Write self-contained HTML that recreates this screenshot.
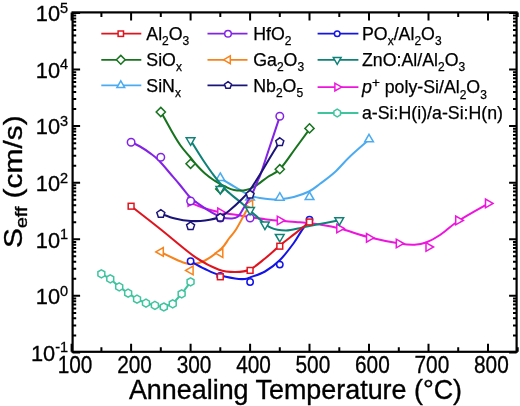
<!DOCTYPE html>
<html><head><meta charset="utf-8"><title>Seff vs Annealing Temperature</title>
<style>html,body{margin:0;padding:0;background:#fff}body{width:520px;height:406px;overflow:hidden}</style></head>
<body>
<svg width="520" height="406" viewBox="0 0 520 406" style="display:block">
<rect width="520" height="406" fill="#fff"/>
<path d="M190.8 203.0 C192.8 203.8 198.1 206.1 203.0 207.7 C207.9 209.2 214.9 211.2 220.0 212.3 C225.1 213.5 228.8 213.8 233.8 214.6 C238.8 215.4 244.8 216.2 250.0 217.0 C255.2 217.8 260.0 218.6 265.0 219.2 C270.0 219.8 274.2 220.3 280.0 220.8 C285.8 221.3 293.3 221.7 300.0 222.3 C306.7 222.9 313.3 223.6 320.0 224.6 C326.7 225.6 331.7 226.3 340.0 228.5 C348.3 230.7 360.1 235.0 370.0 237.5 C379.9 240.0 392.2 242.3 399.6 243.5 C407.0 244.7 410.2 244.9 414.6 244.7 C419.0 244.5 421.8 244.1 426.0 242.5 C430.2 240.9 434.5 238.7 440.0 235.0 C445.5 231.3 450.9 225.8 459.0 220.5 C467.1 215.2 483.6 206.2 488.5 203.4" fill="none" stroke="#ee14de" stroke-width="2.05" stroke-linecap="round" stroke-linejoin="round"/>
<path d="M195.6 202.0 L188.1 197.7 L188.1 206.3Z" fill="#fff" stroke="#ee14de" stroke-width="1.5" stroke-linejoin="miter"/>
<path d="M225.3 212.3 L217.8 208.0 L217.8 216.7Z" fill="#fff" stroke="#ee14de" stroke-width="1.5" stroke-linejoin="miter"/>
<path d="M284.8 220.5 L277.3 216.2 L277.3 224.8Z" fill="#fff" stroke="#ee14de" stroke-width="1.5" stroke-linejoin="miter"/>
<path d="M344.3 228.5 L336.8 224.2 L336.8 232.8Z" fill="#fff" stroke="#ee14de" stroke-width="1.5" stroke-linejoin="miter"/>
<path d="M374.0 237.8 L366.5 233.5 L366.5 242.2Z" fill="#fff" stroke="#ee14de" stroke-width="1.5" stroke-linejoin="miter"/>
<path d="M403.8 243.5 L396.3 239.2 L396.3 247.8Z" fill="#fff" stroke="#ee14de" stroke-width="1.5" stroke-linejoin="miter"/>
<path d="M433.5 247.0 L426.0 242.7 L426.0 251.3Z" fill="#fff" stroke="#ee14de" stroke-width="1.5" stroke-linejoin="miter"/>
<path d="M463.3 220.4 L455.7 216.1 L455.7 224.8Z" fill="#fff" stroke="#ee14de" stroke-width="1.5" stroke-linejoin="miter"/>
<path d="M493.0 203.4 L485.5 199.1 L485.5 207.8Z" fill="#fff" stroke="#ee14de" stroke-width="1.5" stroke-linejoin="miter"/>
<path d="M220.8 178.5 C222.3 179.4 226.8 182.1 230.0 184.0 C233.2 185.9 236.7 188.1 240.0 190.0 C243.3 191.9 246.7 194.2 250.0 195.5 C253.3 196.8 256.7 197.4 260.0 198.0 C263.3 198.6 266.7 199.1 270.0 199.3 C273.3 199.5 276.0 199.7 280.0 199.3 C284.0 198.9 289.0 198.3 293.8 197.0 C298.6 195.7 304.6 193.7 309.0 191.5 C313.4 189.3 315.7 187.1 320.0 183.8 C324.3 180.6 330.0 176.6 335.0 172.0 C340.0 167.4 344.2 161.9 350.0 156.5 C355.8 151.1 366.2 142.2 369.5 139.3" fill="none" stroke="#4cabf0" stroke-width="2.05" stroke-linecap="round" stroke-linejoin="round"/>
<path d="M220.3 173.0 L224.7 180.5 L216.0 180.5Z" fill="#fff" stroke="#4cabf0" stroke-width="1.5" stroke-linejoin="miter"/>
<path d="M250.1 192.5 L254.4 200.0 L245.7 200.0Z" fill="#fff" stroke="#4cabf0" stroke-width="1.5" stroke-linejoin="miter"/>
<path d="M279.8 192.7 L284.1 200.2 L275.4 200.2Z" fill="#fff" stroke="#4cabf0" stroke-width="1.5" stroke-linejoin="miter"/>
<path d="M309.5 192.0 L313.9 199.5 L305.2 199.5Z" fill="#fff" stroke="#4cabf0" stroke-width="1.5" stroke-linejoin="miter"/>
<path d="M369.0 134.3 L373.4 141.8 L364.7 141.8Z" fill="#fff" stroke="#4cabf0" stroke-width="1.5" stroke-linejoin="miter"/>
<path d="M161.0 112.0 C162.7 115.0 167.8 124.4 171.0 130.0 C174.2 135.6 177.3 141.0 180.5 145.5 C183.7 150.0 187.2 153.7 190.0 157.0 C192.8 160.3 194.5 162.8 197.0 165.5 C199.5 168.2 202.0 170.9 205.0 173.5 C208.0 176.1 211.7 178.8 215.0 181.0 C218.3 183.2 221.8 185.0 225.0 186.5 C228.2 188.0 230.5 189.4 234.0 190.0 C237.5 190.6 242.4 190.7 246.0 190.0 C249.6 189.3 251.8 188.2 255.4 186.0 C259.0 183.8 263.6 179.8 267.7 177.0 C271.8 174.2 275.4 173.7 280.0 169.0 C284.6 164.3 290.0 155.8 295.0 149.0 C300.0 142.2 307.6 131.8 310.1 128.4" fill="none" stroke="#17731e" stroke-width="2.05" stroke-linecap="round" stroke-linejoin="round"/>
<path d="M160.8 107.4 L165.4 112.0 L160.8 116.6 L156.2 112.0Z" fill="#fff" stroke="#17731e" stroke-width="1.5" stroke-linejoin="miter"/>
<path d="M190.6 159.2 L195.2 163.8 L190.6 168.4 L186.0 163.8Z" fill="#fff" stroke="#17731e" stroke-width="1.5" stroke-linejoin="miter"/>
<path d="M220.3 184.4 L224.9 189.0 L220.3 193.6 L215.7 189.0Z" fill="#fff" stroke="#17731e" stroke-width="1.5" stroke-linejoin="miter"/>
<path d="M279.8 164.6 L284.4 169.2 L279.8 173.8 L275.2 169.2Z" fill="#fff" stroke="#17731e" stroke-width="1.5" stroke-linejoin="miter"/>
<path d="M309.5 123.8 L314.1 128.4 L309.5 133.0 L304.9 128.4Z" fill="#fff" stroke="#17731e" stroke-width="1.5" stroke-linejoin="miter"/>
<path d="M160.4 251.9 C162.8 253.1 170.9 257.1 175.0 259.0 C179.1 260.9 182.0 262.2 185.0 263.0 C188.0 263.8 189.7 264.4 193.0 264.0 C196.3 263.6 200.2 263.1 205.0 260.5 C209.8 257.9 217.5 252.2 221.5 248.5 C225.5 244.8 226.6 241.7 229.0 238.5 C231.4 235.3 233.4 233.6 236.0 229.5 C238.6 225.4 242.0 218.7 244.6 214.0 C247.2 209.3 250.3 203.6 251.5 201.5" fill="none" stroke="#f7831c" stroke-width="2.05" stroke-linecap="round" stroke-linejoin="round"/>
<path d="M155.8 251.9 L163.3 247.6 L163.3 256.2Z" fill="#fff" stroke="#f7831c" stroke-width="1.5" stroke-linejoin="miter"/>
<path d="M185.6 270.4 L193.1 266.0 L193.1 274.8Z" fill="#fff" stroke="#f7831c" stroke-width="1.5" stroke-linejoin="miter"/>
<path d="M215.3 253.1 L222.8 248.8 L222.8 257.4Z" fill="#fff" stroke="#f7831c" stroke-width="1.5" stroke-linejoin="miter"/>
<path d="M245.0 204.6 L252.6 200.2 L252.6 208.9Z" fill="#fff" stroke="#f7831c" stroke-width="1.5" stroke-linejoin="miter"/>
<path d="M131.6 142.3 C133.0 143.0 136.9 144.7 140.0 146.5 C143.1 148.3 146.8 150.7 150.0 153.1 C153.2 155.5 155.3 156.8 159.2 160.8 C163.0 164.8 169.6 172.9 173.1 176.9 C176.6 180.9 177.6 182.1 180.0 185.0 C182.4 187.9 185.4 191.9 187.3 194.2 C189.2 196.4 189.4 196.8 191.5 198.5 C193.6 200.2 196.2 202.3 199.6 204.7 C203.0 207.1 208.3 210.6 212.0 212.7 C215.7 214.8 218.5 216.3 221.8 217.3 C225.1 218.3 229.3 218.6 232.0 218.5 C234.7 218.4 236.1 218.2 238.0 216.5 C239.9 214.8 241.8 211.1 243.5 208.3 C245.2 205.6 246.8 202.9 248.4 200.0 C250.1 197.1 251.8 194.3 253.4 191.0 C255.0 187.7 256.8 182.8 258.0 180.0 C259.2 177.2 258.7 179.7 260.7 174.0 C262.7 168.3 266.8 155.6 270.0 146.0 C273.2 136.4 278.1 121.6 279.7 116.7" fill="none" stroke="#8223e6" stroke-width="2.05" stroke-linecap="round" stroke-linejoin="round"/>
<circle cx="131.1" cy="142.3" r="3.75" fill="#fff" stroke="#8223e6" stroke-width="1.5" stroke-linejoin="miter"/>
<circle cx="160.8" cy="157.3" r="3.75" fill="#fff" stroke="#8223e6" stroke-width="1.5" stroke-linejoin="miter"/>
<circle cx="190.6" cy="201.0" r="3.75" fill="#fff" stroke="#8223e6" stroke-width="1.5" stroke-linejoin="miter"/>
<circle cx="220.3" cy="218.0" r="3.75" fill="#fff" stroke="#8223e6" stroke-width="1.5" stroke-linejoin="miter"/>
<circle cx="250.1" cy="218.0" r="3.75" fill="#fff" stroke="#8223e6" stroke-width="1.5" stroke-linejoin="miter"/>
<circle cx="279.8" cy="116.2" r="3.75" fill="#fff" stroke="#8223e6" stroke-width="1.5" stroke-linejoin="miter"/>
<path d="M191.0 261.5 C193.3 262.8 200.3 266.8 205.0 269.0 C209.7 271.2 214.0 273.4 219.0 275.0 C224.0 276.6 230.7 277.8 235.0 278.5 C239.3 279.2 242.5 279.2 245.0 279.0 C247.5 278.8 246.7 278.6 250.0 277.4 C253.3 276.1 260.0 274.4 265.0 271.5 C270.0 268.6 275.2 264.8 280.0 260.0 C284.8 255.2 290.2 247.9 293.8 243.0 C297.4 238.1 298.9 234.6 301.5 230.8 C304.1 227.0 308.3 221.8 309.7 220.0" fill="none" stroke="#1414e6" stroke-width="2.05" stroke-linecap="round" stroke-linejoin="round"/>
<circle cx="190.6" cy="261.2" r="3.19" fill="#fff" stroke="#1414e6" stroke-width="1.5" stroke-linejoin="miter"/>
<circle cx="220.3" cy="276.0" r="3.19" fill="#fff" stroke="#1414e6" stroke-width="1.5" stroke-linejoin="miter"/>
<circle cx="250.1" cy="282.0" r="3.19" fill="#fff" stroke="#1414e6" stroke-width="1.5" stroke-linejoin="miter"/>
<circle cx="279.8" cy="264.6" r="3.19" fill="#fff" stroke="#1414e6" stroke-width="1.5" stroke-linejoin="miter"/>
<circle cx="309.5" cy="219.8" r="3.19" fill="#fff" stroke="#1414e6" stroke-width="1.5" stroke-linejoin="miter"/>
<path d="M190.6 140.3 C192.7 143.6 199.1 154.2 203.0 160.0 C206.9 165.8 210.0 170.4 213.8 175.4 C217.6 180.4 221.4 185.4 226.0 190.0 C230.6 194.6 236.6 198.8 241.5 203.0 C246.4 207.2 250.5 211.3 255.4 215.4 C260.3 219.5 265.7 225.2 270.8 227.7 C275.9 230.2 280.9 230.5 286.0 230.5 C291.1 230.5 296.3 228.7 301.5 227.7 C306.7 226.7 310.7 225.8 317.0 224.6 C323.3 223.4 335.5 221.0 339.2 220.3" fill="none" stroke="#0f8278" stroke-width="2.05" stroke-linecap="round" stroke-linejoin="round"/>
<path d="M190.6 145.3 L194.9 137.8 L186.2 137.8Z" fill="#fff" stroke="#0f8278" stroke-width="1.5" stroke-linejoin="miter"/>
<path d="M220.3 194.0 L224.7 186.5 L216.0 186.5Z" fill="#fff" stroke="#0f8278" stroke-width="1.5" stroke-linejoin="miter"/>
<path d="M250.1 215.0 L254.4 207.5 L245.7 207.5Z" fill="#fff" stroke="#0f8278" stroke-width="1.5" stroke-linejoin="miter"/>
<path d="M264.9 229.6 L269.3 222.1 L260.6 222.1Z" fill="#fff" stroke="#0f8278" stroke-width="1.5" stroke-linejoin="miter"/>
<path d="M279.8 242.0 L284.1 234.5 L275.4 234.5Z" fill="#fff" stroke="#0f8278" stroke-width="1.5" stroke-linejoin="miter"/>
<path d="M339.3 225.3 L343.6 217.8 L334.9 217.8Z" fill="#fff" stroke="#0f8278" stroke-width="1.5" stroke-linejoin="miter"/>
<path d="M161.2 213.8 C163.5 214.6 170.1 217.3 175.0 218.5 C179.9 219.7 185.8 220.7 190.8 221.0 C195.8 221.3 200.1 221.2 205.0 220.5 C209.9 219.8 215.8 218.8 220.0 217.0 C224.2 215.2 226.3 213.0 230.0 210.0 C233.7 207.0 238.7 202.3 242.0 199.0 C245.3 195.7 247.6 193.2 250.0 190.0 C252.4 186.8 254.3 183.4 256.5 180.0 C258.7 176.6 260.6 173.5 263.0 169.5 C265.4 165.5 268.2 160.6 271.0 156.0 C273.8 151.4 278.2 144.3 279.7 142.0" fill="none" stroke="#1b1478" stroke-width="2.05" stroke-linecap="round" stroke-linejoin="round"/>
<path d="M160.8 209.6 L164.8 212.5 L163.3 217.2 L158.4 217.2 L156.8 212.5Z" fill="#fff" stroke="#1b1478" stroke-width="1.5" stroke-linejoin="miter"/>
<path d="M190.6 222.0 L194.6 224.9 L193.0 229.6 L188.1 229.6 L186.6 224.9Z" fill="#fff" stroke="#1b1478" stroke-width="1.5" stroke-linejoin="miter"/>
<path d="M220.3 213.5 L224.3 216.4 L222.8 221.1 L217.9 221.1 L216.3 216.4Z" fill="#fff" stroke="#1b1478" stroke-width="1.5" stroke-linejoin="miter"/>
<path d="M250.1 190.4 L254.1 193.3 L252.5 198.0 L247.6 198.0 L246.1 193.3Z" fill="#fff" stroke="#1b1478" stroke-width="1.5" stroke-linejoin="miter"/>
<path d="M279.8 137.8 L283.8 140.7 L282.3 145.4 L277.3 145.4 L275.8 140.7Z" fill="#fff" stroke="#1b1478" stroke-width="1.5" stroke-linejoin="miter"/>
<path d="M131.2 206.2 C136.2 210.2 150.7 221.4 161.5 230.0 C172.3 238.6 186.4 251.1 196.0 257.7 C205.6 264.3 212.4 267.3 219.0 269.7 C225.6 272.1 230.2 272.0 235.4 272.0 C240.6 272.0 245.1 271.8 250.0 269.5 C254.9 267.2 260.0 262.5 265.0 258.5 C270.0 254.5 275.0 249.6 280.0 245.4 C285.0 241.2 290.1 237.5 295.0 233.6 C299.9 229.7 307.2 223.9 309.7 222.0" fill="none" stroke="#e0141e" stroke-width="2.05" stroke-linecap="round" stroke-linejoin="round"/>
<rect x="128.2" y="203.3" width="5.8" height="5.8" fill="#fff" stroke="#e0141e" stroke-width="1.5" stroke-linejoin="miter"/>
<rect x="217.4" y="273.9" width="5.8" height="5.8" fill="#fff" stroke="#e0141e" stroke-width="1.5" stroke-linejoin="miter"/>
<rect x="247.2" y="267.5" width="5.8" height="5.8" fill="#fff" stroke="#e0141e" stroke-width="1.5" stroke-linejoin="miter"/>
<rect x="276.9" y="243.3" width="5.8" height="5.8" fill="#fff" stroke="#e0141e" stroke-width="1.5" stroke-linejoin="miter"/>
<rect x="306.6" y="219.1" width="5.8" height="5.8" fill="#fff" stroke="#e0141e" stroke-width="1.5" stroke-linejoin="miter"/>
<path d="M101.4 273.8 L110.3 278.8 L119.2 286.9 L128.1 293.2 L137.0 299.2 L146.0 303.1 L154.9 305.4 L163.8 307.0 L172.7 303.8 L181.7 293.8 L190.6 281.8" fill="none" stroke="#40c49e" stroke-width="2.05" stroke-linecap="round" stroke-linejoin="round"/>
<path d="M101.4 269.8 L104.8 271.8 L104.8 275.8 L101.4 277.8 L97.9 275.8 L97.9 271.8Z" fill="#fff" stroke="#40c49e" stroke-width="1.5" stroke-linejoin="miter"/>
<path d="M110.3 274.8 L113.7 276.8 L113.7 280.8 L110.3 282.8 L106.8 280.8 L106.8 276.8Z" fill="#fff" stroke="#40c49e" stroke-width="1.5" stroke-linejoin="miter"/>
<path d="M119.2 282.9 L122.7 284.9 L122.7 288.9 L119.2 290.9 L115.7 288.9 L115.7 284.9Z" fill="#fff" stroke="#40c49e" stroke-width="1.5" stroke-linejoin="miter"/>
<path d="M128.1 289.2 L131.6 291.2 L131.6 295.2 L128.1 297.2 L124.7 295.2 L124.7 291.2Z" fill="#fff" stroke="#40c49e" stroke-width="1.5" stroke-linejoin="miter"/>
<path d="M137.0 295.2 L140.5 297.2 L140.5 301.2 L137.0 303.2 L133.6 301.2 L133.6 297.2Z" fill="#fff" stroke="#40c49e" stroke-width="1.5" stroke-linejoin="miter"/>
<path d="M146.0 299.1 L149.4 301.1 L149.4 305.1 L146.0 307.1 L142.5 305.1 L142.5 301.1Z" fill="#fff" stroke="#40c49e" stroke-width="1.5" stroke-linejoin="miter"/>
<path d="M154.9 301.4 L158.4 303.4 L158.4 307.4 L154.9 309.4 L151.4 307.4 L151.4 303.4Z" fill="#fff" stroke="#40c49e" stroke-width="1.5" stroke-linejoin="miter"/>
<path d="M163.8 303.0 L167.3 305.0 L167.3 309.0 L163.8 311.0 L160.3 309.0 L160.3 305.0Z" fill="#fff" stroke="#40c49e" stroke-width="1.5" stroke-linejoin="miter"/>
<path d="M172.7 299.8 L176.2 301.8 L176.2 305.8 L172.7 307.8 L169.3 305.8 L169.3 301.8Z" fill="#fff" stroke="#40c49e" stroke-width="1.5" stroke-linejoin="miter"/>
<path d="M181.7 289.8 L185.1 291.8 L185.1 295.8 L181.7 297.8 L178.2 295.8 L178.2 291.8Z" fill="#fff" stroke="#40c49e" stroke-width="1.5" stroke-linejoin="miter"/>
<path d="M190.6 277.8 L194.0 279.8 L194.0 283.8 L190.6 285.8 L187.1 283.8 L187.1 279.8Z" fill="#fff" stroke="#40c49e" stroke-width="1.5" stroke-linejoin="miter"/>
<rect x="72.6" y="12.4" width="444.0" height="339.4" fill="none" stroke="#000" stroke-width="2.2"/>
<path d="M71.6 351.8v-8.0M71.6 12.4v8.0M101.4 351.8v-4.5M101.4 12.4v4.5M131.1 351.8v-8.0M131.1 12.4v8.0M160.8 351.8v-4.5M160.8 12.4v4.5M190.6 351.8v-8.0M190.6 12.4v8.0M220.3 351.8v-4.5M220.3 12.4v4.5M250.1 351.8v-8.0M250.1 12.4v8.0M279.8 351.8v-4.5M279.8 12.4v4.5M309.5 351.8v-8.0M309.5 12.4v8.0M339.3 351.8v-4.5M339.3 12.4v4.5M369.0 351.8v-8.0M369.0 12.4v8.0M398.8 351.8v-4.5M398.8 12.4v4.5M428.5 351.8v-8.0M428.5 12.4v8.0M458.2 351.8v-4.5M458.2 12.4v4.5M488.0 351.8v-8.0M488.0 12.4v8.0M517.7 351.8v-4.5M517.7 12.4v4.5M72.6 352.4h7.5M516.6 352.4h-7.5M72.6 335.4h3.6M516.6 335.4h-3.6M72.6 325.4h3.6M516.6 325.4h-3.6M72.6 318.3h3.6M516.6 318.3h-3.6M72.6 312.9h3.6M516.6 312.9h-3.6M72.6 308.4h3.6M516.6 308.4h-3.6M72.6 304.6h3.6M516.6 304.6h-3.6M72.6 301.3h3.6M516.6 301.3h-3.6M72.6 298.4h3.6M516.6 298.4h-3.6M72.6 295.8h7.5M516.6 295.8h-7.5M72.6 278.8h3.6M516.6 278.8h-3.6M72.6 268.8h3.6M516.6 268.8h-3.6M72.6 261.8h3.6M516.6 261.8h-3.6M72.6 256.3h3.6M516.6 256.3h-3.6M72.6 251.8h3.6M516.6 251.8h-3.6M72.6 248.0h3.6M516.6 248.0h-3.6M72.6 244.7h3.6M516.6 244.7h-3.6M72.6 241.9h3.6M516.6 241.9h-3.6M72.6 239.3h7.5M516.6 239.3h-7.5M72.6 222.2h3.6M516.6 222.2h-3.6M72.6 212.3h3.6M516.6 212.3h-3.6M72.6 205.2h3.6M516.6 205.2h-3.6M72.6 199.7h3.6M516.6 199.7h-3.6M72.6 195.2h3.6M516.6 195.2h-3.6M72.6 191.5h3.6M516.6 191.5h-3.6M72.6 188.2h3.6M516.6 188.2h-3.6M72.6 185.3h3.6M516.6 185.3h-3.6M72.6 182.7h7.5M516.6 182.7h-7.5M72.6 165.7h3.6M516.6 165.7h-3.6M72.6 155.7h3.6M516.6 155.7h-3.6M72.6 148.6h3.6M516.6 148.6h-3.6M72.6 143.2h3.6M516.6 143.2h-3.6M72.6 138.7h3.6M516.6 138.7h-3.6M72.6 134.9h3.6M516.6 134.9h-3.6M72.6 131.6h3.6M516.6 131.6h-3.6M72.6 128.7h3.6M516.6 128.7h-3.6M72.6 126.1h7.5M516.6 126.1h-7.5M72.6 109.1h3.6M516.6 109.1h-3.6M72.6 99.1h3.6M516.6 99.1h-3.6M72.6 92.1h3.6M516.6 92.1h-3.6M72.6 86.6h3.6M516.6 86.6h-3.6M72.6 82.1h3.6M516.6 82.1h-3.6M72.6 78.3h3.6M516.6 78.3h-3.6M72.6 75.0h3.6M516.6 75.0h-3.6M72.6 72.2h3.6M516.6 72.2h-3.6M72.6 69.6h7.5M516.6 69.6h-7.5M72.6 52.5h3.6M516.6 52.5h-3.6M72.6 42.6h3.6M516.6 42.6h-3.6M72.6 35.5h3.6M516.6 35.5h-3.6M72.6 30.0h3.6M516.6 30.0h-3.6M72.6 25.5h3.6M516.6 25.5h-3.6M72.6 21.8h3.6M516.6 21.8h-3.6M72.6 18.5h3.6M516.6 18.5h-3.6M72.6 15.6h3.6M516.6 15.6h-3.6M72.6 13.0h7.5M516.6 13.0h-7.5" stroke="#000" stroke-width="2" fill="none"/>
<text transform="translate(75.0,372.6) scale(0.905,1)" font-size="23" text-anchor="middle" stroke="#000" stroke-width="0.3" font-family="Liberation Sans, Arial, sans-serif">100</text>
<text transform="translate(134.5,372.6) scale(0.905,1)" font-size="23" text-anchor="middle" stroke="#000" stroke-width="0.3" font-family="Liberation Sans, Arial, sans-serif">200</text>
<text transform="translate(194.0,372.6) scale(0.905,1)" font-size="23" text-anchor="middle" stroke="#000" stroke-width="0.3" font-family="Liberation Sans, Arial, sans-serif">300</text>
<text transform="translate(253.5,372.6) scale(0.905,1)" font-size="23" text-anchor="middle" stroke="#000" stroke-width="0.3" font-family="Liberation Sans, Arial, sans-serif">400</text>
<text transform="translate(312.9,372.6) scale(0.905,1)" font-size="23" text-anchor="middle" stroke="#000" stroke-width="0.3" font-family="Liberation Sans, Arial, sans-serif">500</text>
<text transform="translate(372.4,372.6) scale(0.905,1)" font-size="23" text-anchor="middle" stroke="#000" stroke-width="0.3" font-family="Liberation Sans, Arial, sans-serif">600</text>
<text transform="translate(431.9,372.6) scale(0.905,1)" font-size="23" text-anchor="middle" stroke="#000" stroke-width="0.3" font-family="Liberation Sans, Arial, sans-serif">700</text>
<text transform="translate(491.4,372.6) scale(0.905,1)" font-size="23" text-anchor="middle" stroke="#000" stroke-width="0.3" font-family="Liberation Sans, Arial, sans-serif">800</text>
<text x="68.1" y="360.7" font-size="21.8" text-anchor="end" stroke="#000" stroke-width="0.3" font-family="Liberation Sans, Arial, sans-serif">10<tspan font-size="14.5" dy="-8.5">-1</tspan></text>
<text x="68.1" y="304.1" font-size="21.8" text-anchor="end" stroke="#000" stroke-width="0.3" font-family="Liberation Sans, Arial, sans-serif">10<tspan font-size="14.5" dy="-8.5">0</tspan></text>
<text x="68.1" y="247.6" font-size="21.8" text-anchor="end" stroke="#000" stroke-width="0.3" font-family="Liberation Sans, Arial, sans-serif">10<tspan font-size="14.5" dy="-8.5">1</tspan></text>
<text x="68.1" y="191.0" font-size="21.8" text-anchor="end" stroke="#000" stroke-width="0.3" font-family="Liberation Sans, Arial, sans-serif">10<tspan font-size="14.5" dy="-8.5">2</tspan></text>
<text x="68.1" y="134.4" font-size="21.8" text-anchor="end" stroke="#000" stroke-width="0.3" font-family="Liberation Sans, Arial, sans-serif">10<tspan font-size="14.5" dy="-8.5">3</tspan></text>
<text x="68.1" y="77.9" font-size="21.8" text-anchor="end" stroke="#000" stroke-width="0.3" font-family="Liberation Sans, Arial, sans-serif">10<tspan font-size="14.5" dy="-8.5">4</tspan></text>
<text x="68.1" y="21.3" font-size="21.8" text-anchor="end" stroke="#000" stroke-width="0.3" font-family="Liberation Sans, Arial, sans-serif">10<tspan font-size="14.5" dy="-8.5">5</tspan></text>
<text x="295.5" y="398.9" font-size="26.9" stroke="#000" stroke-width="0.35" text-anchor="middle" font-family="Liberation Sans, Arial, sans-serif">Annealing Temperature (°C)</text>
<text transform="translate(21.5,181.7) rotate(-90) scale(1.15,1)" font-size="26" stroke="#000" stroke-width="0.35" text-anchor="middle" font-family="Liberation Sans, Arial, sans-serif">S<tspan font-size="17" dy="5">eff</tspan><tspan dy="-5"> (cm/s)</tspan></text>
<path d="M101.3 33.7H141.3" stroke="#e0141e" stroke-width="1.8" fill="none"/>
<rect x="118.1" y="31.0" width="5.4" height="5.4" fill="#fff" stroke="#e0141e" stroke-width="1.5" stroke-linejoin="miter"/>
<text x="146.3" y="39.9" font-size="17.75" stroke="#000" stroke-width="0.25" font-family="Liberation Sans, Arial, sans-serif">Al<tspan font-size="12" dy="5.2">2</tspan><tspan dy="-5.2">O</tspan><tspan font-size="12" dy="5.2">3</tspan></text>
<path d="M101.3 59.8H141.3" stroke="#17731e" stroke-width="1.8" fill="none"/>
<path d="M120.8 55.4 L125.2 59.8 L120.8 64.2 L116.4 59.8Z" fill="#fff" stroke="#17731e" stroke-width="1.5" stroke-linejoin="miter"/>
<text x="146.3" y="66.0" font-size="17.75" stroke="#000" stroke-width="0.25" font-family="Liberation Sans, Arial, sans-serif">SiO<tspan font-size="12" dy="5.2">x</tspan></text>
<path d="M101.3 85.3H141.3" stroke="#4cabf0" stroke-width="1.8" fill="none"/>
<path d="M120.8 80.8 L124.7 87.6 L116.9 87.6Z" fill="#fff" stroke="#4cabf0" stroke-width="1.5" stroke-linejoin="miter"/>
<text x="146.3" y="91.5" font-size="17.75" stroke="#000" stroke-width="0.25" font-family="Liberation Sans, Arial, sans-serif">SiN<tspan font-size="12" dy="5.2">x</tspan></text>
<path d="M207.5 33.7H247.5" stroke="#8223e6" stroke-width="1.8" fill="none"/>
<circle cx="228.0" cy="33.7" r="3.30" fill="#fff" stroke="#8223e6" stroke-width="1.5" stroke-linejoin="miter"/>
<text x="253.2" y="39.9" font-size="17.75" stroke="#000" stroke-width="0.25" font-family="Liberation Sans, Arial, sans-serif">HfO<tspan font-size="12" dy="5.2">2</tspan></text>
<path d="M207.5 59.8H247.5" stroke="#f7831c" stroke-width="1.8" fill="none"/>
<path d="M223.5 59.8 L230.3 55.9 L230.3 63.7Z" fill="#fff" stroke="#f7831c" stroke-width="1.5" stroke-linejoin="miter"/>
<text x="253.2" y="66.0" font-size="17.75" stroke="#000" stroke-width="0.25" font-family="Liberation Sans, Arial, sans-serif">Ga<tspan font-size="12" dy="5.2">2</tspan><tspan dy="-5.2">O</tspan><tspan font-size="12" dy="5.2">3</tspan></text>
<path d="M207.5 85.3H247.5" stroke="#1b1478" stroke-width="1.8" fill="none"/>
<path d="M228.0 81.6 L231.5 84.2 L230.1 88.3 L225.9 88.3 L224.5 84.2Z" fill="#fff" stroke="#1b1478" stroke-width="1.5" stroke-linejoin="miter"/>
<text x="253.2" y="91.5" font-size="17.75" stroke="#000" stroke-width="0.25" font-family="Liberation Sans, Arial, sans-serif">Nb<tspan font-size="12" dy="5.2">2</tspan><tspan dy="-5.2">O</tspan><tspan font-size="12" dy="5.2">5</tspan></text>
<path d="M317.6 33.7H358.4" stroke="#1414e6" stroke-width="1.8" fill="none"/>
<circle cx="337.2" cy="33.7" r="2.81" fill="#fff" stroke="#1414e6" stroke-width="1.5" stroke-linejoin="miter"/>
<text x="362.0" y="39.9" font-size="17.75" stroke="#000" stroke-width="0.25" font-family="Liberation Sans, Arial, sans-serif">PO<tspan font-size="12" dy="5.2">x</tspan><tspan dy="-5.2">/Al</tspan><tspan font-size="12" dy="5.2">2</tspan><tspan dy="-5.2">O</tspan><tspan font-size="12" dy="5.2">3</tspan></text>
<path d="M317.6 59.8H358.4" stroke="#0f8278" stroke-width="1.8" fill="none"/>
<path d="M337.2 64.3 L341.1 57.5 L333.3 57.5Z" fill="#fff" stroke="#0f8278" stroke-width="1.5" stroke-linejoin="miter"/>
<text x="362.0" y="66.0" font-size="17.75" stroke="#000" stroke-width="0.25" font-family="Liberation Sans, Arial, sans-serif">ZnO:Al/Al<tspan font-size="12" dy="5.2">2</tspan><tspan dy="-5.2">O</tspan><tspan font-size="12" dy="5.2">3</tspan></text>
<path d="M317.6 87.1H358.4" stroke="#ee14de" stroke-width="1.8" fill="none"/>
<path d="M341.7 87.1 L334.9 83.2 L334.9 91.0Z" fill="#fff" stroke="#ee14de" stroke-width="1.5" stroke-linejoin="miter"/>
<text x="362.0" y="93.3" font-size="17.75" stroke="#000" stroke-width="0.25" font-family="Liberation Sans, Arial, sans-serif"><tspan font-style="italic">p</tspan><tspan font-size="13.5" dy="-6.5" stroke="#000" stroke-width="0.3">+</tspan><tspan dy="6.5"> poly-Si/Al</tspan><tspan font-size="12" dy="5.2">2</tspan><tspan dy="-5.2">O</tspan><tspan font-size="12" dy="5.2">3</tspan></text>
<path d="M317.6 113.0H358.4" stroke="#40c49e" stroke-width="1.8" fill="none"/>
<path d="M337.2 109.2 L340.5 111.1 L340.5 114.9 L337.2 116.8 L333.9 114.9 L333.9 111.1Z" fill="#fff" stroke="#40c49e" stroke-width="1.5" stroke-linejoin="miter"/>
<text x="362.0" y="119.2" font-size="17.75" stroke="#000" stroke-width="0.25" font-family="Liberation Sans, Arial, sans-serif">a-Si:H(i)/a-Si:H(n)</text>
</svg>
</body></html>
